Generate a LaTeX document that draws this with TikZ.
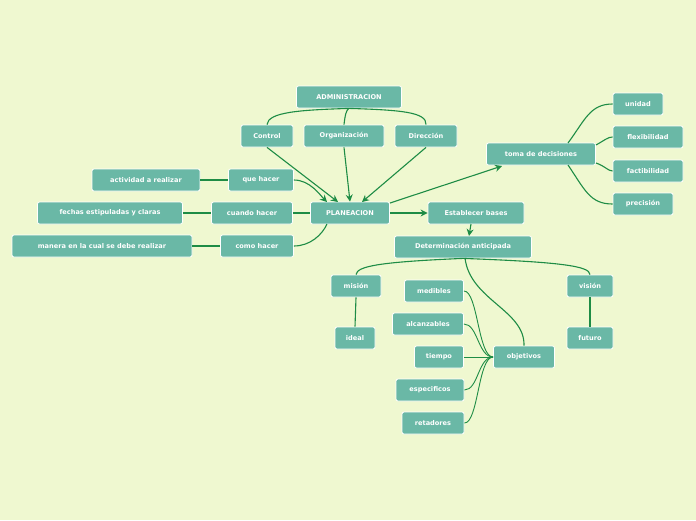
\documentclass[tikz,border=0pt]{standalone}
\usepackage{fontspec}
\setmainfont{DejaVu Sans}
\usetikzlibrary{arrows.meta,calc}
\definecolor{bg}{HTML}{EFF8D0}
\definecolor{nf}{HTML}{6AB8A6}
\definecolor{ln}{HTML}{1E8C45}
\tikzset{
 nd/.style={fill=nf,draw=white,line width=0.8pt,rounded corners=2pt,text=white,font=\fontsize{6.6}{8}\selectfont\bfseries,minimum height=22pt,inner xsep=6pt},
 cn/.style={draw=ln,line width=1.1pt},
 ar/.style={draw=ln,line width=1.1pt,-{Stealth[length=7pt,width=7pt]}},
}
\begin{document}
\begin{tikzpicture}[x=1pt,y=-1pt]
\fill[bg] (0,0) rectangle (696,520);
\useasboundingbox (0,0) rectangle (696,520);
\node[nd,minimum width=105pt] (adm) at (349,97) {ADMINISTRACION};
\node[nd,minimum width=52pt] (ctl) at (267,136) {Control};
\node[nd,minimum width=80pt] (org) at (344,136) {Organización};
\node[nd,minimum width=62pt] (dir) at (426,136) {Dirección};
\node[nd,minimum width=109pt] (tom) at (541,154) {toma de decisiones};
\node[nd,minimum width=50pt] (uni) at (638,104) {unidad};
\node[nd,minimum width=70pt] (fle) at (648,137) {flexibilidad};
\node[nd,minimum width=70pt] (fac) at (648,171) {factibilidad};
\node[nd,minimum width=60pt] (pre) at (643,204) {precisión};
\node[nd,minimum width=108pt] (act) at (146,180) {actividad a realizar};
\node[nd,minimum width=65pt] (que) at (261,180) {que hacer};
\node[nd,minimum width=79pt] (pla) at (350,213) {PLANEACION};
\node[nd,minimum width=145pt] (fec) at (110,213) {fechas estipuladas y claras};
\node[nd,minimum width=81pt] (cua) at (252,213) {cuando hacer};
\node[nd,minimum width=180pt] (man) at (102,246) {manera en la cual se debe realizar};
\node[nd,minimum width=73pt] (com) at (257,246) {como hacer};
\node[nd,minimum width=96pt] (est) at (476,213) {Establecer bases};
\node[nd,minimum width=137pt] (det) at (463,247) {Determinación anticipada};
\node[nd,minimum width=50pt] (mis) at (356,286) {misión};
\node[nd,minimum width=40pt] (ide) at (355,338) {ideal};
\node[nd,minimum width=59pt] (med) at (434,291) {medibles};
\node[nd,minimum width=71pt] (alc) at (428,324) {alcanzables};
\node[nd,minimum width=49pt] (tie) at (439,357) {tiempo};
\node[nd,minimum width=68pt] (esp) at (430,390) {especificos};
\node[nd,minimum width=62pt] (ret) at (433,423) {retadores};
\node[nd,minimum width=61pt] (obj) at (524,357) {objetivos};
\node[nd,minimum width=46pt] (vis) at (590,286) {visión};
\node[nd,minimum width=46pt] (fut) at (590,338) {futuro};
% admin branches
\draw[cn] (adm.south) .. controls (300,110) and (268,112) .. (ctl.north);
\draw[cn] (adm.south) .. controls (346,110) and (345,116) .. (org.north);
\draw[cn] (adm.south) .. controls (400,110) and (427,112) .. (dir.north);
% arrows into planeacion
\draw[ar] (ctl.south) -- (338,202);
\draw[ar] (org.south) -- (pla.north);
\draw[ar] (dir.south) -- (362,202);
\draw[ar] (que.east) .. controls (310,180) and (320,195) .. (327,202);
\draw[cn] (cua.east) -- (pla.west);
\draw[cn] (com.east) .. controls (310,246) and (322,235) .. (327,224);
\draw[cn] (act.east) -- (que.west);
\draw[cn] (fec.east) -- (cua.west);
\draw[cn] (man.east) -- (com.west);
\draw[ar] (390,203) -- (502,166);
\draw[ar] (pla.east) -- (est.west);
\draw[ar] (471,224) -- (469,236);
% toma branches
\draw[cn] (568,143) .. controls (585,120) and (590,104) .. (uni.west);
\draw[cn] (596,145) .. controls (605,140) and (608,137) .. (fle.west);
\draw[cn] (596,163) .. controls (605,166) and (608,171) .. (fac.west);
\draw[cn] (568,165) .. controls (585,190) and (590,204) .. (pre.west);
% determinacion branches
\draw[cn] (det.south) .. controls (380,262) and (357,266) .. (mis.north);
\draw[cn] (det.south) .. controls (560,262) and (590,266) .. (vis.north);
\draw[cn] (465,258) .. controls (470,300) and (525,310) .. (obj.north);
\draw[cn] (mis.south) -- (ide.north);
\draw[cn] (vis.south) -- (fut.north);
\foreach \n in {med,alc,tie,esp,ret}
  \draw[cn,line width=0.9pt] (\n.east) .. controls ($(\n.east)+(14,0)$) and (478,357) .. (obj.west);
\end{tikzpicture}
\end{document}
